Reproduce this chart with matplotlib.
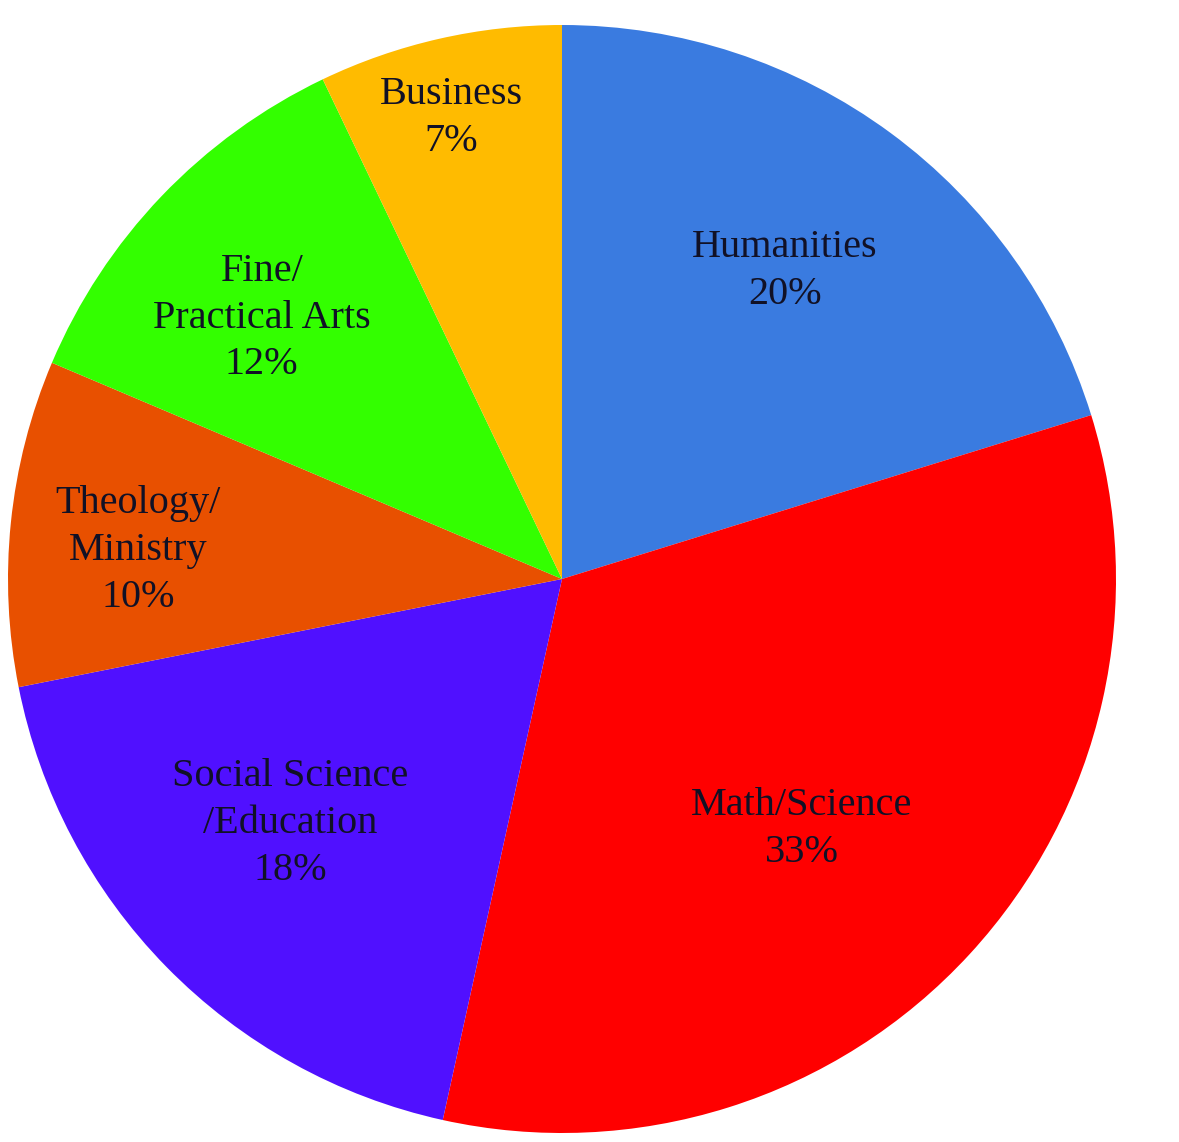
import numpy as np
import matplotlib

matplotlib.use("Agg")
import matplotlib.pyplot as plt

# Share of students by field, clockwise from 12 o'clock
labels = ["Humanities", "Math/Science", "Social Science\n/Education",
          "Theology/\nMinistry", "Fine/\nPractical Arts", "Business"]
shares = [20.2, 33.2, 18.4, 9.5, 11.5, 7.1]      # wedge sizes as drawn
pct_text = ["20%", "33%", "18%", "10%", "12%", "7%"]  # printed labels
colors = ["#3a7be0", "#ff0000", "#5010ff", "#e85000", "#33ff00", "#ffbb00"]

# label placement: fraction of radius, and angular nudge (deg) off the wedge middle
label_r = [0.686, 0.625, 0.66, 0.767, 0.718, 0.856]
label_nudge = [0.5, -3.6, -2.5, 2.0, 2.7, 0.75]

plt.rcParams["font.family"] = ["Liberation Serif", "DejaVu Serif"]

W, H = 1179, 1142
fig = plt.figure(figsize=(W / 100, H / 100), dpi=100)
cx, cy, r = 562, 579, 554
ax = fig.add_axes([(cx - r) / W, (H - cy - r) / H, 2 * r / W, 2 * r / H])

wedges, _ = ax.pie(shares, colors=colors, startangle=90, counterclock=False,
                   radius=1.0, wedgeprops=dict(linewidth=0))

for w, lab, pct, d, nd in zip(wedges, labels, pct_text, label_r, label_nudge):
    mid = np.deg2rad((w.theta1 + w.theta2) / 2 + nd)
    ax.text(d * np.cos(mid), d * np.sin(mid), f"{lab}\n{pct}",
            ha="center", va="center", fontsize=29, color="#111126",
            linespacing=1.35)

ax.set_xlim(-1, 1)
ax.set_ylim(-1, 1)
ax.set_aspect("auto")
ax.axis("off")

fig.savefig("out.png", dpi=100, facecolor="white")
